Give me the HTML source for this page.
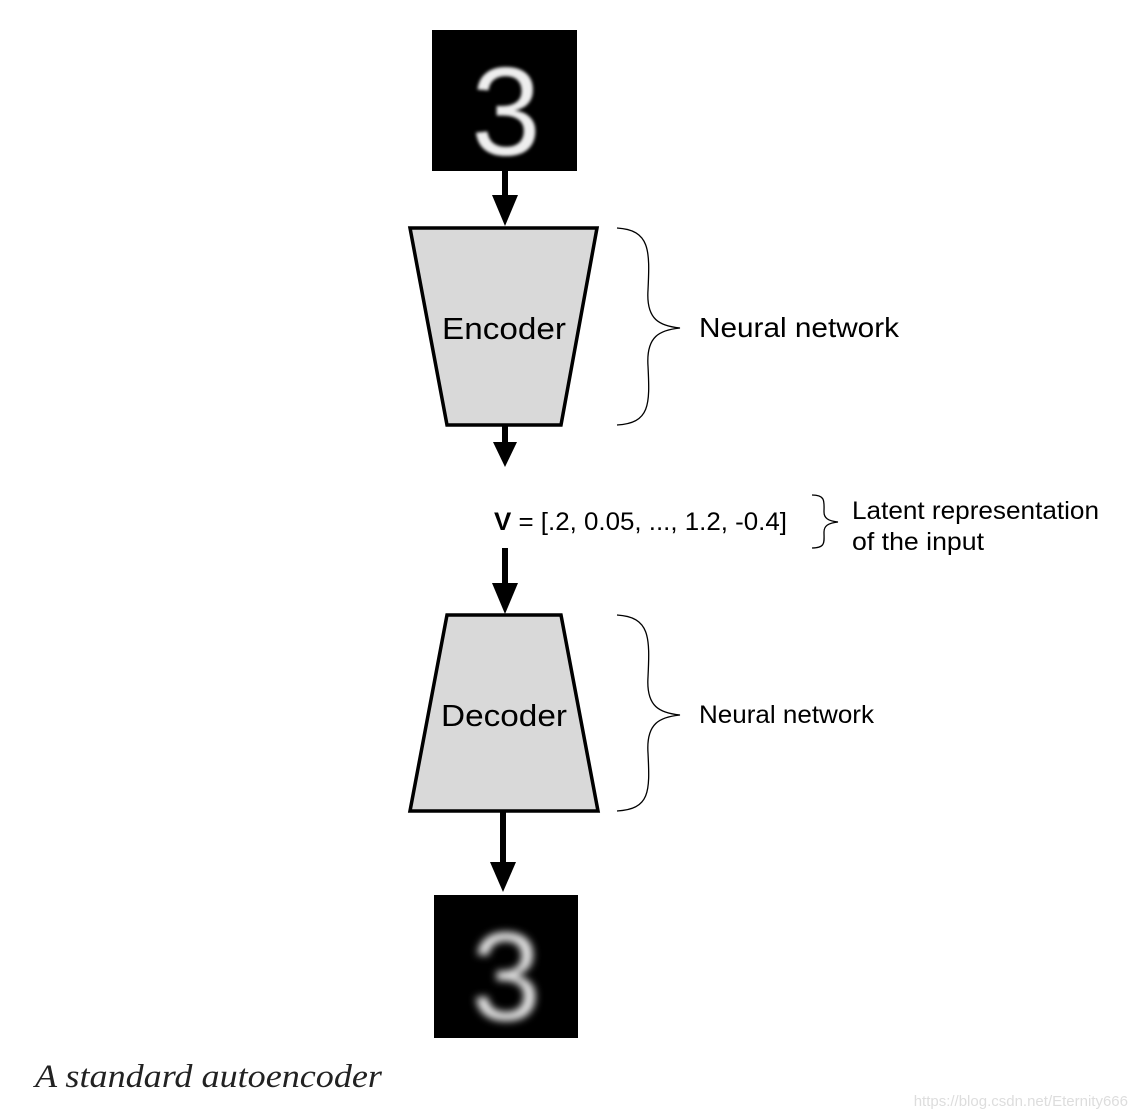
<!DOCTYPE html>
<html><head><meta charset="utf-8"><style>
html,body{margin:0;padding:0;background:#fff;}
svg{display:block;}
</style></head><body>
<svg width="1137" height="1118" viewBox="0 0 1137 1118" xmlns="http://www.w3.org/2000/svg">
<defs>
<filter id="b1"><feGaussianBlur stdDeviation="1.5"/></filter>
<filter id="b2"><feGaussianBlur stdDeviation="4"/></filter>
</defs>
<rect width="1137" height="1118" fill="#fff"/>
<rect x="432" y="30" width="145" height="141" fill="#000"/>
<text x="506" y="155" text-anchor="middle" font-family="Liberation Sans, sans-serif" font-size="125" fill="#eee" filter="url(#b1)">3</text>
<g stroke="#000" stroke-width="6" fill="none">
<line x1="505" y1="171" x2="505" y2="200"/>
<line x1="505" y1="425" x2="505" y2="445"/>
<line x1="505" y1="548" x2="505" y2="588"/>
<line x1="503" y1="811" x2="503" y2="866"/>
</g>
<g fill="#000">
<polygon points="492,195 518,195 505,226"/>
<polygon points="493,442 517,442 505,467"/>
<polygon points="492,583 518,583 505,614"/>
<polygon points="490,862 516,862 503,892"/>
</g>
<polygon points="410,228 597,228 561,425 447,425" fill="#d9d9d9" stroke="#000" stroke-width="3.5"/>
<text x="442" y="339" textLength="124" lengthAdjust="spacingAndGlyphs" font-family="Liberation Sans, sans-serif" font-size="31" fill="#000">Encoder</text>
<polygon points="447,615 561,615 598,811 410,811" fill="#d9d9d9" stroke="#000" stroke-width="3.5"/>
<text x="441" y="726" textLength="126" lengthAdjust="spacingAndGlyphs" font-family="Liberation Sans, sans-serif" font-size="31" fill="#000">Decoder</text>
<g stroke="#000" stroke-width="1.3" fill="none">
<path d="M617,228 C650,230 650,250 648,290 C646,320 660,326 680,328 C660,330 646,336 648,366 C650,405 650,423 617,425"/>
<path d="M617,615 C650,617 650,637 648,677 C646,707 660,713 680,715 C660,717 646,723 648,753 C650,792 650,809 617,811"/>
<path d="M812,495 C826,495 824,502 824,512 C824,518 828,521 838,522 C828,523 824,526 824,532 C824,542 826,548 812,548"/>
</g>
<g font-family="Liberation Sans, sans-serif" fill="#000">
<text x="699" y="337" font-size="28" textLength="200" lengthAdjust="spacingAndGlyphs">Neural network</text>
<text x="699" y="723" font-size="25" textLength="175" lengthAdjust="spacingAndGlyphs">Neural network</text>
<text x="494" y="530" font-size="25" textLength="293" lengthAdjust="spacingAndGlyphs"><tspan font-weight="bold">V</tspan> = [.2, 0.05, ..., 1.2, -0.4]</text>
<text x="852" y="519" font-size="25" textLength="247" lengthAdjust="spacingAndGlyphs">Latent representation</text>
<text x="852" y="550" font-size="25" textLength="132" lengthAdjust="spacingAndGlyphs">of the input</text>
</g>
<rect x="434" y="895" width="144" height="143" fill="#000"/>
<text x="506" y="1020" text-anchor="middle" font-family="Liberation Sans, sans-serif" font-size="125" fill="#e8e8e8" filter="url(#b2)">3</text>
<text x="35" y="1087" textLength="347" lengthAdjust="spacingAndGlyphs" font-family="Liberation Serif, serif" font-style="italic" font-size="33" fill="#222">A standard autoencoder</text>
<text x="1128" y="1106" text-anchor="end" font-family="Liberation Sans, sans-serif" font-size="15" fill="#ddd">https://blog.csdn.net/Eternity666</text>
</svg>
</body></html>
